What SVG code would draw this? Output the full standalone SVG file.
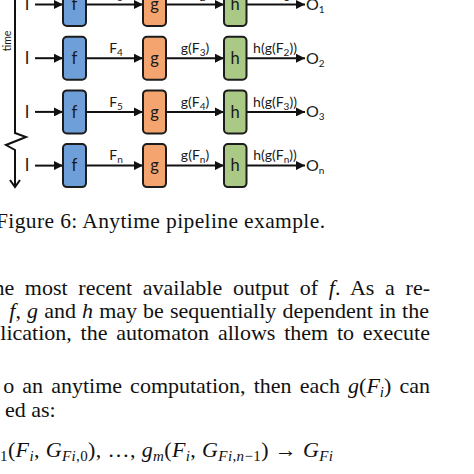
<svg xmlns="http://www.w3.org/2000/svg" width="474" height="474" viewBox="0 0 474 474">
<style>
.bg{fill:#ffffff}
.box{stroke:#1c1c1c;stroke-width:2}
.bf{fill:#6f9fd8}
.bg2{fill:#f4a46e}
.bh{fill:#a9c985}
.lbl{font-family:Lato,"Liberation Sans",sans-serif;font-size:16.5px;fill:#1a1a1a;text-anchor:middle}
.al{font-family:Lato,"Liberation Sans",sans-serif;font-size:14px;fill:#1a1a1a;text-anchor:middle}
.ol{font-family:Lato,"Liberation Sans",sans-serif;font-size:16px;fill:#1a1a1a}
.s{font-size:10px}
.ln{stroke:#111;stroke-width:2;fill:none}
.body{font-family:"Liberation Serif","Times New Roman",serif;font-size:22px;fill:#111}
.i{font-style:italic}
.sb{font-size:15px}
</style>
<defs>
<marker id="ah" markerUnits="userSpaceOnUse" markerWidth="10" markerHeight="9" refX="9" refY="4.5" orient="auto">
<path d="M0,0 L9,4.5 L0,9 z" fill="#111"/>
</marker>
</defs>
<rect class="bg" x="0" y="0" width="474" height="474"/>

<g id="time-axis">
<path class="ln" d="M15,-2 L15,133 L26,137 L6,145 L15,150 L15,187" stroke-width="1.6"/>
<path class="ln" d="M10,180 L15,187 L20,180" stroke-width="1.6"/>
<text transform="translate(11,41) rotate(-90)" style="font-family:Lato,'Liberation Sans',sans-serif;font-size:10.5px;fill:#1a1a1a;text-anchor:middle">time</text>
</g>

<g id="connectors">
<line class="ln" x1="35" y1="4.5" x2="63" y2="4.5" marker-end="url(#ah)"/>
<line class="ln" x1="86" y1="4.5" x2="143" y2="4.5" marker-end="url(#ah)"/>
<line class="ln" x1="166" y1="4.5" x2="224" y2="4.5" marker-end="url(#ah)"/>
<line class="ln" x1="246" y1="4.5" x2="305" y2="4.5" marker-end="url(#ah)"/>
<line class="ln" x1="35" y1="58.2" x2="63" y2="58.2" marker-end="url(#ah)"/>
<line class="ln" x1="86" y1="58.2" x2="143" y2="58.2" marker-end="url(#ah)"/>
<line class="ln" x1="166" y1="58.2" x2="224" y2="58.2" marker-end="url(#ah)"/>
<line class="ln" x1="246" y1="58.2" x2="305" y2="58.2" marker-end="url(#ah)"/>
<line class="ln" x1="35" y1="111.9" x2="63" y2="111.9" marker-end="url(#ah)"/>
<line class="ln" x1="86" y1="111.9" x2="143" y2="111.9" marker-end="url(#ah)"/>
<line class="ln" x1="166" y1="111.9" x2="224" y2="111.9" marker-end="url(#ah)"/>
<line class="ln" x1="246" y1="111.9" x2="305" y2="111.9" marker-end="url(#ah)"/>
<line class="ln" x1="35" y1="165.6" x2="63" y2="165.6" marker-end="url(#ah)"/>
<line class="ln" x1="86" y1="165.6" x2="143" y2="165.6" marker-end="url(#ah)"/>
<line class="ln" x1="166" y1="165.6" x2="224" y2="165.6" marker-end="url(#ah)"/>
<line class="ln" x1="246" y1="165.6" x2="305" y2="165.6" marker-end="url(#ah)"/>

<text class="al" x="116" y="-2">F<tspan class="s" dy="3">3</tspan></text>
<text class="al" x="195" y="-2">g(F<tspan class="s" dy="3">2</tspan><tspan dy="-3">)</tspan></text>
<text class="al" x="275" y="-2">h(g(F<tspan class="s" dy="3">1</tspan><tspan dy="-3">))</tspan></text>

<text class="al" x="116" y="53">F<tspan class="s" dy="3">4</tspan></text>
<text class="al" x="195" y="53">g(F<tspan class="s" dy="3">3</tspan><tspan dy="-3">)</tspan></text>
<text class="al" x="275" y="53">h(g(F<tspan class="s" dy="3">2</tspan><tspan dy="-3">))</tspan></text>

<text class="al" x="116" y="106.7">F<tspan class="s" dy="3">5</tspan></text>
<text class="al" x="195" y="106.7">g(F<tspan class="s" dy="3">4</tspan><tspan dy="-3">)</tspan></text>
<text class="al" x="275" y="106.7">h(g(F<tspan class="s" dy="3">3</tspan><tspan dy="-3">))</tspan></text>

<text class="al" x="116" y="160.4">F<tspan class="s" dy="3">n</tspan></text>
<text class="al" x="195" y="160.4">g(F<tspan class="s" dy="3">n</tspan><tspan dy="-3">)</tspan></text>
<text class="al" x="275" y="160.4">h(g(F<tspan class="s" dy="3">n</tspan><tspan dy="-3">))</tspan></text>
</g>

<g id="in1"><text class="lbl" x="27" y="10.3">I</text></g>
<g id="f1"><rect class="box bf" x="63" y="-17" width="23" height="43" rx="4"/><text class="lbl" x="74.5" y="10.3">f</text></g>
<g id="g1"><rect class="box bg2" x="143" y="-17" width="23" height="43" rx="4"/><text class="lbl" x="154.5" y="10.3">g</text></g>
<g id="h1"><rect class="box bh" x="224" y="-17" width="22.5" height="43" rx="4"/><text class="lbl" x="235.2" y="10.3">h</text></g>
<g id="o1"><text class="ol" x="306" y="10">O<tspan class="s" dy="3">1</tspan></text></g>

<g id="in2"><text class="lbl" x="27" y="64">I</text></g>
<g id="f2"><rect class="box bf" x="63" y="36.7" width="23" height="43" rx="4"/><text class="lbl" x="74.5" y="64">f</text></g>
<g id="g2"><rect class="box bg2" x="143" y="36.7" width="23" height="43" rx="4"/><text class="lbl" x="154.5" y="64">g</text></g>
<g id="h2"><rect class="box bh" x="224" y="36.7" width="22.5" height="43" rx="4"/><text class="lbl" x="235.2" y="64">h</text></g>
<g id="o2"><text class="ol" x="306" y="63.7">O<tspan class="s" dy="3">2</tspan></text></g>

<g id="in3"><text class="lbl" x="27" y="117.7">I</text></g>
<g id="f3"><rect class="box bf" x="63" y="90.4" width="23" height="43" rx="4"/><text class="lbl" x="74.5" y="117.7">f</text></g>
<g id="g3"><rect class="box bg2" x="143" y="90.4" width="23" height="43" rx="4"/><text class="lbl" x="154.5" y="117.7">g</text></g>
<g id="h3"><rect class="box bh" x="224" y="90.4" width="22.5" height="43" rx="4"/><text class="lbl" x="235.2" y="117.7">h</text></g>
<g id="o3"><text class="ol" x="306" y="117.4">O<tspan class="s" dy="3">3</tspan></text></g>

<g id="in4"><text class="lbl" x="27" y="171.4">I</text></g>
<g id="f4"><rect class="box bf" x="63" y="144.1" width="23" height="43" rx="4"/><text class="lbl" x="74.5" y="171.4">f</text></g>
<g id="g4"><rect class="box bg2" x="143" y="144.1" width="23" height="43" rx="4"/><text class="lbl" x="154.5" y="171.4">g</text></g>
<g id="h4"><rect class="box bh" x="224" y="144.1" width="22.5" height="43" rx="4"/><text class="lbl" x="235.2" y="171.4">h</text></g>
<g id="o4"><text class="ol" x="306" y="171.1">O<tspan class="s" dy="3">n</tspan></text></g>

<g id="caption">
<text class="body" x="-4" y="228" style="font-size:21.5px" textLength="329" lengthAdjust="spacing">Figure 6: Anytime pipeline example.</text>
</g>

<g id="body-text">
<text class="body" x="430" y="295" text-anchor="end" style="word-spacing:5.2px">he most recent available output of <tspan class="i">f</tspan>. As a re-</text>
<text class="body" x="429" y="318" text-anchor="end" style="word-spacing:0.6px"><tspan class="i">f</tspan>, <tspan class="i">g</tspan> and <tspan class="i">h</tspan> may be sequentially dependent in the</text>
<text class="body" x="430" y="340" text-anchor="end" style="word-spacing:3.3px">plication, the automaton allows them to execute</text>
<text class="body" x="430" y="393" text-anchor="end" style="word-spacing:2.6px">o an anytime computation, then each <tspan class="i">g</tspan>(<tspan class="i">F</tspan><tspan class="i sb" dy="4">i</tspan><tspan dy="-4">) can</tspan></text>
<text class="body" x="5" y="417">ed as:</text>
<text class="body" x="0" y="457" textLength="333" lengthAdjust="spacing"><tspan class="sb" dy="4">1</tspan><tspan dy="-4">(</tspan><tspan class="i">F</tspan><tspan class="i sb" dy="4">i</tspan><tspan dy="-4">, </tspan><tspan class="i">G</tspan><tspan class="i sb" dy="4">Fi</tspan><tspan class="sb">,0</tspan><tspan dy="-4">), …, </tspan><tspan class="i">g</tspan><tspan class="i sb" dy="4">m</tspan><tspan dy="-4">(</tspan><tspan class="i">F</tspan><tspan class="i sb" dy="4">i</tspan><tspan dy="-4">, </tspan><tspan class="i">G</tspan><tspan class="i sb" dy="4">Fi</tspan><tspan class="sb">,</tspan><tspan class="i sb">n</tspan><tspan class="sb">−1</tspan><tspan dy="-4">) → </tspan><tspan class="i">G</tspan><tspan class="i sb" dy="4">Fi</tspan></text>
</g>
</svg>
